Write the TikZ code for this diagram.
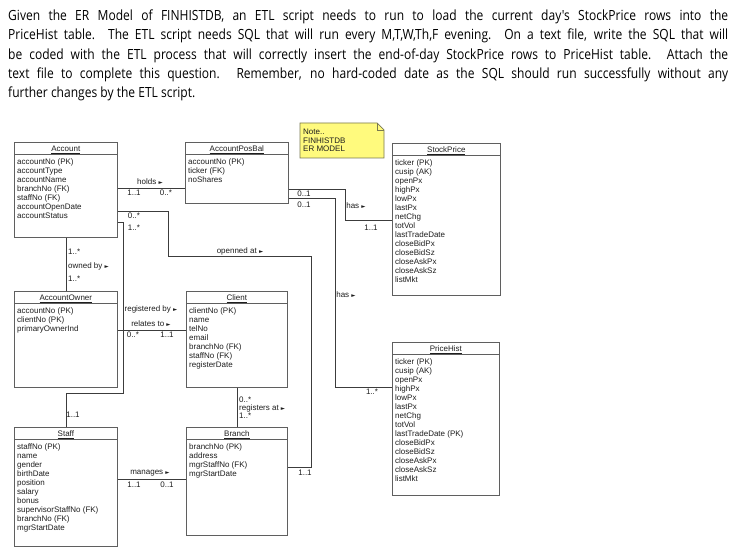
\documentclass[tikz,border=0pt]{standalone}
\usepackage{fontspec}
\setmainfont{Liberation Sans}
\newfontfamily\parfont[FakeStretch=0.86]{Open Sans}
\newfontfamily\symf{DejaVu Sans}
\definecolor{linec}{RGB}{60,60,60}
\definecolor{boxc}{RGB}{95,95,95}
\definecolor{notefill}{RGB}{255,250,125}
\definecolor{notedraw}{RGB}{120,120,80}
\definecolor{txtc}{RGB}{30,30,30}
\newcommand\tri{{\symf\fontsize{5.5}{5.5}\selectfont ►}}
\newcommand\erentity[7]{%
  \node[ebox, minimum width=#4pt, minimum height=#5pt, anchor=north west] (#1) at (#2,#3) {};
  \draw[boxline] ([yshift=-12pt]#1.north west) -- ([yshift=-12pt]#1.north east);
  \node[etitle, anchor=base] (#1-t) at ([yshift=-9.5pt]#1.north) {\underline{#6}};
  \foreach \atxt [count=\i] in {#7}
    \node[attr, anchor=base west] (#1-a\i) at ([xshift=3pt,yshift={-13.5pt-9pt*\i}]#1.north west) {\atxt};
}
\begin{document}
\begin{tikzpicture}[x=1pt,y=-1pt,
  ebox/.style={draw=boxc, line width=0.7pt, fill=white, inner sep=0pt},
  boxline/.style={draw=boxc, line width=0.7pt},
  etitle/.style={font=\fontsize{8}{9}\selectfont, text=txtc, inner sep=0pt},
  attr/.style={font=\fontsize{8}{9}\selectfont, text=txtc, inner sep=0pt},
  lbl/.style={font=\fontsize{8}{9}\selectfont, text=txtc, inner sep=0pt},
  conn/.style={draw=linec, line width=0.7pt},
  para/.style={font=\parfont\fontsize{14}{19}\selectfont, text=black, inner sep=0pt, anchor=base west}]
\useasboundingbox[fill=white] (0,0) rectangle (743,556);

% paragraph
\node[para] (p1) at (8,20.5) {\makebox[720pt][s]{Given the ER Model of FINHISTDB, an ETL script needs to run to load the current day's StockPrice rows into the}};
\node[para] (p2) at (8,39.8) {\makebox[720pt][s]{PriceHist table.  The ETL script needs SQL that will run every M,T,W,Th,F evening.  On a text file, write the SQL that will}};
\node[para] (p3) at (8,59.1) {\makebox[720pt][s]{be coded with the ETL process that will correctly insert the end-of-day StockPrice rows to PriceHist table.  Attach the}};
\node[para] (p4) at (8,78.4) {\makebox[720pt][s]{text file to complete this question.  Remember, no hard-coded date as the SQL should run successfully without any}};
\node[para] (p5) at (8,97.7) {further changes by the ETL script.};

% note
\draw[fill=notefill, draw=notedraw, line width=0.7pt] (300,123) -- (377,123) -- (384,130) -- (384,158) -- (300,158) -- cycle;
\draw[draw=notedraw, line width=0.7pt] (377,123) -- (377,130) -- (384,130);
\node[lbl, anchor=north west, align=left, font=\fontsize{8}{8.6}\selectfont] (note) at (303,129) {Note..\\FINHISTDB\\ER MODEL};

% entities
\erentity{account}{14}{142}{103}{95}{Account}{accountNo (PK), accountType, accountName, branchNo (FK), staffNo (FK), accountOpenDate, accountStatus}
\erentity{apb}{185}{142}{103}{61}{AccountPosBal}{accountNo (PK), ticker (FK), noShares}
\erentity{stock}{392}{143}{108}{152}{StockPrice}{ticker (PK), cusip (AK), openPx, highPx, lowPx, lastPx, netChg, totVol, lastTradeDate, closeBidPx, closeBidSz, closeAskPx, closeAskSz, listMkt}
\erentity{owner}{14}{291}{103}{96}{AccountOwner}{accountNo (PK), clientNo (PK), primaryOwnerInd}
\erentity{client}{186}{291}{101}{96}{Client}{clientNo (PK), name, telNo, email, branchNo (FK), staffNo (FK), registerDate}
\erentity{pricehist}{392}{342}{107}{153}{PriceHist}{ticker (PK), cusip (AK), openPx, highPx, lowPx, lastPx, netChg, totVol, lastTradeDate (PK), closeBidPx, closeBidSz, closeAskPx, closeAskSz, listMkt}
\erentity{staff}{14}{427}{103}{119}{Staff}{staffNo (PK), name, gender, birthDate, position, salary, bonus, supervisorStaffNo (FK), branchNo (FK), mgrStartDate}
\erentity{branch}{186}{427}{101}{108}{Branch}{branchNo (PK), address, mgrStaffNo (FK), mgrStartDate}

% connectors
\draw[conn] (account.east |- 0,188) -- (apb.west |- 0,188);
\draw[conn] (account.east |- 0,211) -- (168,211) -- (168,256) -- (311,256) -- (311,467) -- (branch.east |- 0,467);
\draw[conn] (account.east |- 0,222) -- (123,222) -- (123,393) -- (staff.north |- 0,393) -- (staff.north);
\draw[conn] (account.south) -- (owner.north);
\draw[conn] (owner.east |- 0,330) -- (client.west |- 0,330);
\draw[conn] (client.south) -- (branch.north);
\draw[conn] (staff.east |- 0,479) -- (branch.west |- 0,479);
\draw[conn] (apb.east |- 0,189) -- (345,189) -- (345,220) -- (stock.west |- 0,220);
\draw[conn] (apb.east |- 0,198) -- (335,198) -- (335,387) -- (pricehist.west |- 0,387);

% labels
\node[lbl] (l-holds) at (150,182) {holds \tri};
\node[lbl] (l-holds-a) at (134,192.5) {1..1};
\node[lbl] (l-holds-b) at (166,192.5) {0..*};
\node[lbl] (l-open-a) at (134,215.5) {0..*};
\node[lbl] (l-open) at (240,251) {openned at \tri};
\node[lbl] (l-open-b) at (305,472.5) {1..1};
\node[lbl] (l-reg-a) at (134,227.5) {1..*};
\node[lbl] (l-reg) at (151,309) {registered by \tri};
\node[lbl] (l-reg-b) at (73,415) {1..1};
\node[lbl, anchor=west] (l-own-a) at (68,252) {1..*};
\node[lbl, anchor=west] (l-own) at (68,266) {owned by \tri};
\node[lbl, anchor=west] (l-own-b) at (68,279) {1..*};
\node[lbl] (l-rel) at (151,324) {relates to \tri};
\node[lbl] (l-rel-a) at (133,334.5) {0..*};
\node[lbl] (l-rel-b) at (167,334.5) {1..1};
\node[lbl, anchor=west] (l-rega-a) at (239,400) {0..*};
\node[lbl, anchor=west] (l-rega) at (239,408) {registers at \tri};
\node[lbl, anchor=west] (l-rega-b) at (239,415.5) {1..*};
\node[lbl] (l-man) at (150,473) {manages \tri};
\node[lbl] (l-man-a) at (134,485) {1..1};
\node[lbl] (l-man-b) at (167,485) {0..1};
\node[lbl] (l-has1-a) at (304,194) {0..1};
\node[lbl] (l-has1) at (356,206) {has \tri};
\node[lbl] (l-has1-b) at (371,228) {1..1};
\node[lbl] (l-has2-a) at (304,205) {0..1};
\node[lbl] (l-has2) at (346,295) {has \tri};
\node[lbl] (l-has2-b) at (372,392) {1..*};
\end{tikzpicture}
\end{document}
